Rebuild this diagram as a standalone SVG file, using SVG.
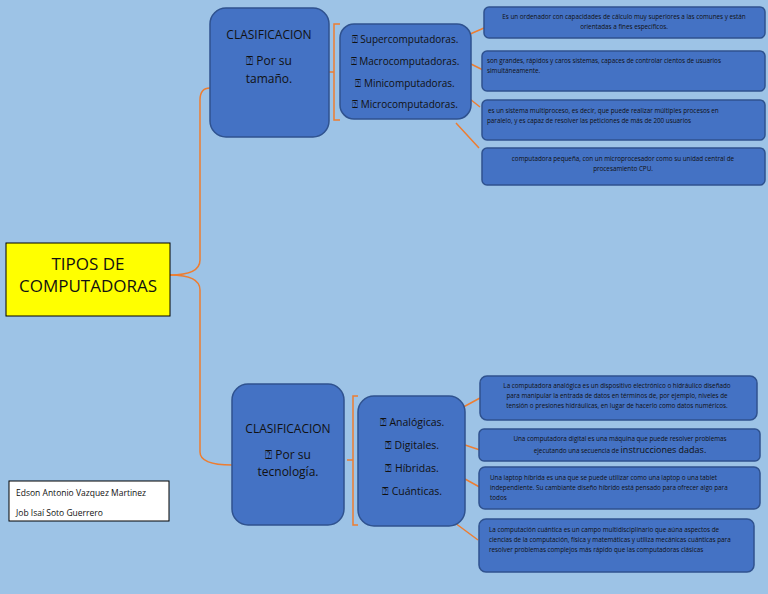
<svg xmlns="http://www.w3.org/2000/svg" width="768" height="594" viewBox="0 0 768 594">
<style>
.n{fill:#4472C4;stroke:#2F528F;stroke-width:1.5}
.t{font-family:"Open Sans","Liberation Sans",sans-serif;fill:#111}
.c{fill:none;stroke:#ED7D31;stroke-width:1.5}
.s{font-size:6.3px}
</style>
<rect width="768" height="594" fill="#9DC3E6"/>
<g id="connectors">
<path class="c" d="M170,275 Q200,275 200,260 L200,100 Q200,88 210,88"/>
<path class="c" d="M170,275 Q200,275 200,290 L200,452 Q200,465 232,465"/>
<path class="c" d="M340,24 L334,24 L334,120 L340,120 M334,72 L329,72"/>
<path class="c" d="M358,396 L353,396 L353,525 L358,525 M353,460 L347,460"/>
<path class="c" d="M461,38 L484,28 M465,61 L483,70 M451,84 L480,107 M456,123 L479,148"/>
<path class="c" d="M456,411 L480,398 M465,445 L480,450 M465,479 L485,490 M451,520 L478,540"/>
</g>
<g id="main"><rect x="6" y="243" width="164" height="73" fill="#FFFF00" stroke="#000"/>
<text class="t" font-size="17" text-anchor="middle"><tspan x="88" y="270">TIPOS DE</tspan><tspan x="88" y="292">COMPUTADORAS</tspan></text></g>
<g id="clas1"><rect class="n" x="210" y="8" width="119" height="129" rx="16"/>
<text class="t" font-size="12" text-anchor="middle"><tspan x="269" y="39">CLASIFICACION</tspan><tspan x="269" y="65">⍰ Por su</tspan><tspan x="269" y="83">tamaño.</tspan></text></g>
<g id="clas2"><rect class="n" x="232" y="384" width="112" height="141" rx="16"/>
<text class="t" font-size="12" text-anchor="middle"><tspan x="288" y="433">CLASIFICACION</tspan><tspan x="288" y="459">⍰ Por su</tspan><tspan x="288" y="476">tecnología.</tspan></text></g>
<g id="list1"><rect class="n" x="340" y="24" width="131" height="95" rx="14"/>
<text class="t" font-size="10" text-anchor="middle"><tspan x="405" y="43">⍰ Supercomputadoras.</tspan><tspan x="405" y="65">⍰ Macrocomputadoras.</tspan><tspan x="405" y="87">⍰ Minicomputadoras.</tspan><tspan x="405" y="108">⍰ Microcomputadoras.</tspan></text></g>
<g id="list2"><rect class="n" x="358" y="396" width="107" height="130" rx="16"/>
<text class="t" font-size="10.5" text-anchor="middle"><tspan x="412" y="426">⍰ Analógicas.</tspan><tspan x="412" y="449">⍰ Digitales.</tspan><tspan x="412" y="472">⍰ Híbridas.</tspan><tspan x="412" y="495">⍰ Cuánticas.</tspan></text></g>
<g id="d1"><rect class="n" x="484" y="7" width="281" height="31" rx="5"/>
<text class="t s" text-anchor="middle"><tspan x="624" y="19">Es un ordenador con capacidades de cálculo muy superiores a las comunes y están</tspan><tspan x="624" y="29">orientadas a fines específicos.</tspan></text></g>
<g id="d2"><rect class="n" x="482" y="51" width="283" height="40" rx="5"/>
<text class="t s"><tspan x="487" y="63">son grandes, rápidos y caros sistemas, capaces de controlar cientos de usuarios</tspan><tspan x="487" y="73">simultáneamente.</tspan></text></g>
<g id="d3"><rect class="n" x="482" y="100" width="283" height="40" rx="5"/>
<text class="t s"><tspan x="488" y="113">es un sistema multiproceso, es decir, que puede realizar múltiples procesos en</tspan><tspan x="487" y="123">paralelo, y es capaz de resolver las peticiones de más de 200 usuarios</tspan></text></g>
<g id="d4"><rect class="n" x="482" y="148" width="283" height="37" rx="5"/>
<text class="t s" text-anchor="middle"><tspan x="623" y="161">computadora pequeña, con un microprocesador como su unidad central de</tspan><tspan x="623" y="171">procesamiento CPU.</tspan></text></g>
<g id="d5"><rect class="n" x="480" y="376" width="277" height="44" rx="7"/>
<text class="t s" text-anchor="middle"><tspan x="617" y="388">La computadora analógica es un dispositivo electrónico o hidráulico diseñado</tspan><tspan x="617" y="398">para manipular la entrada de datos en términos de, por ejemplo, niveles de</tspan><tspan x="617" y="408">tensión o presiones hidráulicas, en lugar de hacerlo como datos numéricos.</tspan></text></g>
<g id="d6"><rect class="n" x="479" y="429" width="281" height="32" rx="5"/>
<text class="t s" text-anchor="middle"><tspan x="620" y="441">Una computadora digital es una máquina que puede resolver problemas</tspan><tspan x="620" y="453">ejecutando una secuencia de <tspan font-size="9">instrucciones dadas.</tspan></tspan></text></g>
<g id="d7"><rect class="n" x="479" y="467" width="281" height="42" rx="6"/>
<text class="t s"><tspan x="490" y="480">Una laptop híbrida es una que se puede utilizar como una laptop o una tablet</tspan><tspan x="490" y="490">independiente. Su cambiante diseño híbrido está pensado para ofrecer algo para</tspan><tspan x="490" y="500">todos</tspan></text></g>
<g id="d8"><rect class="n" x="479" y="519" width="275" height="53" rx="7"/>
<text class="t s"><tspan x="489" y="532">La computación cuántica es un campo multidisciplinario que aúna aspectos de</tspan><tspan x="489" y="542">ciencias de la computación, física y matemáticas y utiliza mecánicas cuánticas para</tspan><tspan x="489" y="552">resolver problemas complejos más rápido que las computadoras clásicas</tspan></text></g>
<g id="names"><rect x="9" y="481" width="160" height="40" fill="#fff" stroke="#000"/>
<text class="t" font-size="8.5"><tspan x="16" y="496">Edson Antonio Vazquez Martinez</tspan><tspan x="16" y="516">Job Isaí Soto Guerrero</tspan></text></g>
</svg>
